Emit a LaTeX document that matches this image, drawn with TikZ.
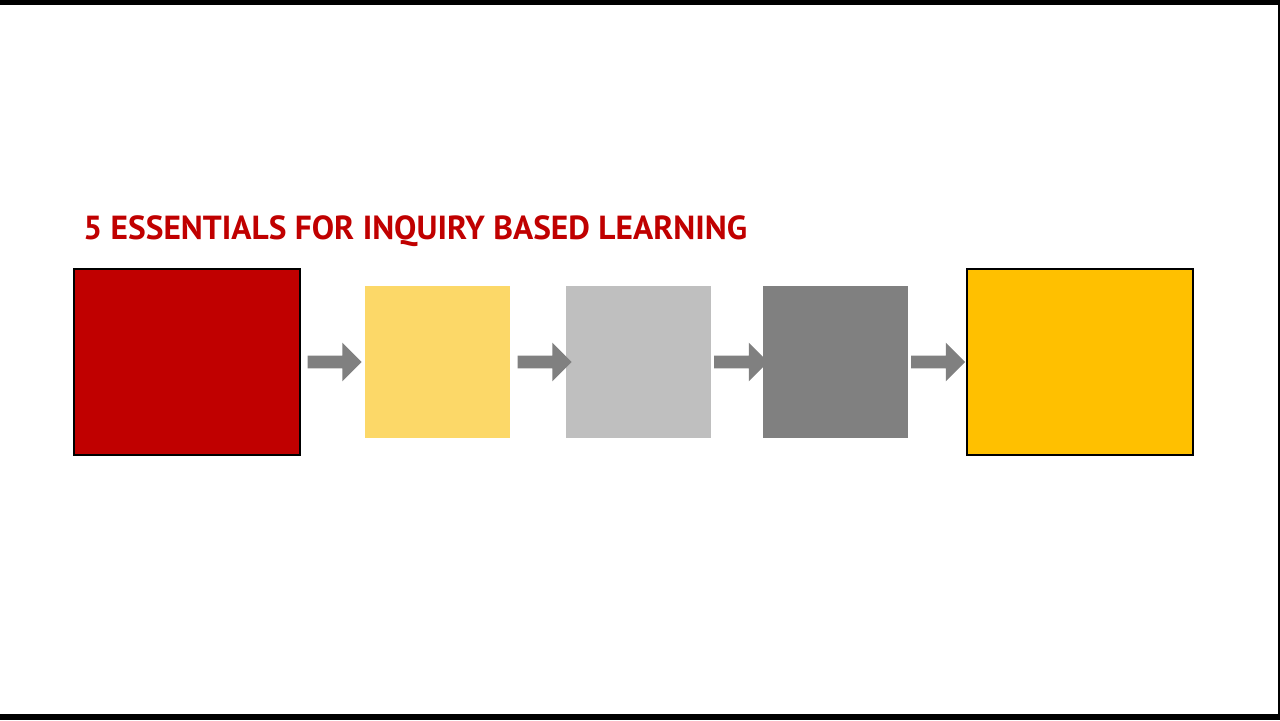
\documentclass[tikz,border=0pt]{standalone}
\usepackage{fontspec}
\setsansfont{PT Sans}
\usetikzlibrary{shapes.arrows}
\definecolor{darkred}{RGB}{192,0,0}
\definecolor{paleyellow}{RGB}{252,216,104}
\definecolor{lightgrey}{RGB}{191,191,191}
\definecolor{midgrey}{RGB}{128,128,128}
\definecolor{gold}{RGB}{255,192,0}
\tikzset{
  bigbox/.style={draw=black, line width=0.8pt, minimum width=4.52cm, minimum height=3.72cm, inner sep=0},
  smallbox/.style={minimum width=2.9cm, minimum height=3.04cm, inner sep=0},
  flowarrow/.style={single arrow, fill=midgrey, minimum height=1.08cm, minimum width=0.76cm,
    single arrow head extend=0.26cm, inner sep=0.12cm}
}
\begin{document}
\begin{tikzpicture}
  \useasboundingbox (0,0) rectangle (25.6,14.4);
  \fill[white] (0,0) rectangle (25.6,14.4);
  % frame bars
  \fill[black] (0,14.3) rectangle (25.6,14.4);
  \fill[black] (0,0) rectangle (25.6,0.12);
  \fill[black] (25.56,0) rectangle (25.6,14.4);

  \node[anchor=base west, text=darkred, font=\sffamily\bfseries\fontsize{19}{22}\selectfont, inner sep=0]
    (title) at (1.66,9.6) {5 ESSENTIALS FOR INQUIRY BASED LEARNING};

  \node[bigbox, fill=darkred] (start) at (3.74,7.16) {};
  \node[smallbox, fill=paleyellow] (stepa) at (8.75,7.16) {};
  \node[smallbox, fill=lightgrey] (stepb) at (12.77,7.16) {};
  \node[smallbox, fill=midgrey] (stepc) at (16.71,7.16) {};
  \node[bigbox, fill=gold] (finish) at (21.6,7.16) {};

  \node[flowarrow] (arra) at (6.63,7.16) {};
  \node[flowarrow] (arrb) at (10.83,7.16) {};
  \node[flowarrow] (arrc) at (14.76,7.16) {};
  \node[flowarrow] (arrd) at (18.7,7.16) {};
\end{tikzpicture}
\end{document}
